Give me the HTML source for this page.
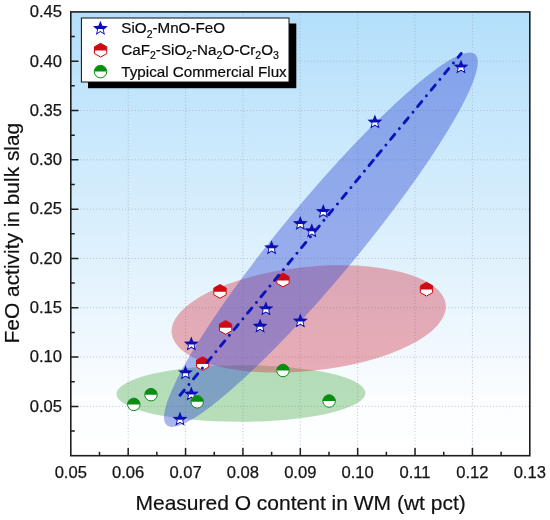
<!DOCTYPE html>
<html><head><meta charset="utf-8"><title>FeO activity vs O content</title>
<style>
html,body{margin:0;padding:0;background:#fff;}
svg{display:block;font-family:"Liberation Sans",Arial,sans-serif;}
</style></head><body>
<svg width="550" height="520" viewBox="0 0 550 520">
<defs>
<linearGradient id="bg" x1="0" y1="0" x2="0" y2="1">
<stop offset="0" stop-color="#b3dffb"/><stop offset="0.55" stop-color="#dff1fd"/><stop offset="0.87" stop-color="#fbfdff"/><stop offset="1" stop-color="#ffffff"/>
</linearGradient>
<clipPath id="plot"><rect x="70.80" y="11.90" width="459.00" height="443.80"/></clipPath>
</defs>
<rect width="550" height="520" fill="#fff"/>

<rect x="70.8" y="11.9" width="459.00" height="443.80" fill="url(#bg)"/>
<path d="M128.18,11.9V455.7M185.55,11.9V455.7M242.92,11.9V455.7M300.30,11.9V455.7M357.67,11.9V455.7M415.05,11.9V455.7M472.43,11.9V455.7M70.8,406.39H529.8M70.8,357.08H529.8M70.8,307.77H529.8M70.8,258.46H529.8M70.8,209.14H529.8M70.8,159.83H529.8M70.8,110.52H529.8M70.8,61.21H529.8" fill="none" stroke="#a8b0ba" stroke-width="0.85" stroke-dasharray="0.9 2.3"/>
<g clip-path="url(#plot)">
<ellipse cx="241" cy="393.5" rx="124.5" ry="28.3" transform="rotate(-0.25 241 393.5)" fill="#46aa46" fill-opacity="0.38"/>
<ellipse cx="308.7" cy="318.9" rx="137.8" ry="52" transform="rotate(-6 308.7 318.9)" fill="#d23041" fill-opacity="0.38"/>
<ellipse cx="320.9" cy="239.7" rx="241.2" ry="38.4" transform="rotate(-50.3 320.9 239.7)" fill="#2d46d2" fill-opacity="0.40"/>
</g>
<clipPath id="s1"><rect x="170.00" y="419.75" width="20" height="3.5"/></clipPath><polygon points="180.00,411.60 181.98,416.72 187.47,417.02 183.21,420.49 184.61,425.80 180.00,422.83 175.39,425.80 176.79,420.49 172.53,417.02 178.02,416.72" fill="#0a0eb4"/><polygon points="180.00,413.95 181.39,417.54 185.23,417.75 182.25,420.18 183.23,423.90 180.00,421.81 176.77,423.90 177.75,420.18 174.77,417.75 178.61,417.54" fill="#fff" clip-path="url(#s1)"/>
<clipPath id="s2"><rect x="181.30" y="394.55" width="20" height="3.5"/></clipPath><polygon points="191.30,386.40 193.28,391.52 198.77,391.82 194.51,395.29 195.91,400.60 191.30,397.63 186.69,400.60 188.09,395.29 183.83,391.82 189.32,391.52" fill="#0a0eb4"/><polygon points="191.30,388.75 192.69,392.34 196.53,392.55 193.55,394.98 194.53,398.70 191.30,396.61 188.07,398.70 189.05,394.98 186.07,392.55 189.91,392.34" fill="#fff" clip-path="url(#s2)"/>
<clipPath id="s3"><rect x="175.50" y="373.35" width="20" height="3.5"/></clipPath><polygon points="185.50,365.20 187.48,370.32 192.97,370.62 188.71,374.09 190.11,379.40 185.50,376.43 180.89,379.40 182.29,374.09 178.03,370.62 183.52,370.32" fill="#0a0eb4"/><polygon points="185.50,367.56 186.89,371.14 190.73,371.35 187.75,373.78 188.73,377.50 185.50,375.41 182.27,377.50 183.25,373.78 180.27,371.35 184.11,371.14" fill="#fff" clip-path="url(#s3)"/>
<clipPath id="s4"><rect x="181.30" y="344.55" width="20" height="3.5"/></clipPath><polygon points="191.30,336.40 193.28,341.52 198.77,341.82 194.51,345.29 195.91,350.60 191.30,347.63 186.69,350.60 188.09,345.29 183.83,341.82 189.32,341.52" fill="#0a0eb4"/><polygon points="191.30,338.75 192.69,342.34 196.53,342.55 193.55,344.98 194.53,348.70 191.30,346.61 188.07,348.70 189.05,344.98 186.07,342.55 189.91,342.34" fill="#fff" clip-path="url(#s4)"/>
<clipPath id="s5"><rect x="250.10" y="326.65" width="20" height="3.5"/></clipPath><polygon points="260.10,318.50 262.08,323.62 267.57,323.92 263.31,327.39 264.71,332.70 260.10,329.73 255.49,332.70 256.89,327.39 252.63,323.92 258.12,323.62" fill="#0a0eb4"/><polygon points="260.10,320.86 261.49,324.44 265.33,324.65 262.35,327.08 263.33,330.80 260.10,328.71 256.87,330.80 257.85,327.08 254.87,324.65 258.71,324.44" fill="#fff" clip-path="url(#s5)"/>
<clipPath id="s6"><rect x="255.90" y="309.35" width="20" height="3.5"/></clipPath><polygon points="265.90,301.20 267.88,306.32 273.37,306.62 269.11,310.09 270.51,315.40 265.90,312.43 261.29,315.40 262.69,310.09 258.43,306.62 263.92,306.32" fill="#0a0eb4"/><polygon points="265.90,303.56 267.29,307.14 271.13,307.35 268.15,309.78 269.13,313.50 265.90,311.41 262.67,313.50 263.65,309.78 260.67,307.35 264.51,307.14" fill="#fff" clip-path="url(#s6)"/>
<clipPath id="s7"><rect x="290.30" y="321.55" width="20" height="3.5"/></clipPath><polygon points="300.30,313.40 302.28,318.52 307.77,318.82 303.51,322.29 304.91,327.60 300.30,324.63 295.69,327.60 297.09,322.29 292.83,318.82 298.32,318.52" fill="#0a0eb4"/><polygon points="300.30,315.75 301.69,319.34 305.53,319.55 302.55,321.98 303.53,325.70 300.30,323.61 297.07,325.70 298.05,321.98 295.07,319.55 298.91,319.34" fill="#fff" clip-path="url(#s7)"/>
<clipPath id="s8"><rect x="261.60" y="248.35" width="20" height="3.5"/></clipPath><polygon points="271.60,240.20 273.58,245.32 279.07,245.62 274.81,249.09 276.21,254.40 271.60,251.43 266.99,254.40 268.39,249.09 264.13,245.62 269.62,245.32" fill="#0a0eb4"/><polygon points="271.60,242.56 272.99,246.14 276.83,246.35 273.85,248.78 274.83,252.50 271.60,250.41 268.37,252.50 269.35,248.78 266.37,246.35 270.21,246.14" fill="#fff" clip-path="url(#s8)"/>
<clipPath id="s9"><rect x="290.30" y="224.05" width="20" height="3.5"/></clipPath><polygon points="300.30,215.90 302.28,221.02 307.77,221.32 303.51,224.79 304.91,230.10 300.30,227.13 295.69,230.10 297.09,224.79 292.83,221.32 298.32,221.02" fill="#0a0eb4"/><polygon points="300.30,218.25 301.69,221.84 305.53,222.05 302.55,224.48 303.53,228.20 300.30,226.11 297.07,228.20 298.05,224.48 295.07,222.05 298.91,221.84" fill="#fff" clip-path="url(#s9)"/>
<clipPath id="s10"><rect x="301.80" y="231.35" width="20" height="3.5"/></clipPath><polygon points="311.80,223.20 313.78,228.32 319.27,228.62 315.01,232.09 316.41,237.40 311.80,234.43 307.19,237.40 308.59,232.09 304.33,228.62 309.82,228.32" fill="#0a0eb4"/><polygon points="311.80,225.56 313.19,229.14 317.03,229.35 314.05,231.78 315.03,235.50 311.80,233.41 308.57,235.50 309.55,231.78 306.57,229.35 310.41,229.14" fill="#fff" clip-path="url(#s10)"/>
<clipPath id="s11"><rect x="313.30" y="212.05" width="20" height="3.5"/></clipPath><polygon points="323.30,203.90 325.28,209.02 330.77,209.32 326.51,212.79 327.91,218.10 323.30,215.13 318.69,218.10 320.09,212.79 315.83,209.32 321.32,209.02" fill="#0a0eb4"/><polygon points="323.30,206.25 324.69,209.84 328.53,210.05 325.55,212.48 326.53,216.20 323.30,214.11 320.07,216.20 321.05,212.48 318.07,210.05 321.91,209.84" fill="#fff" clip-path="url(#s11)"/>
<clipPath id="s12"><rect x="364.90" y="122.55" width="20" height="3.5"/></clipPath><polygon points="374.90,114.40 376.88,119.52 382.37,119.82 378.11,123.29 379.51,128.60 374.90,125.63 370.29,128.60 371.69,123.29 367.43,119.82 372.92,119.52" fill="#0a0eb4"/><polygon points="374.90,116.75 376.29,120.34 380.13,120.55 377.15,122.98 378.13,126.70 374.90,124.61 371.67,126.70 372.65,122.98 369.67,120.55 373.51,120.34" fill="#fff" clip-path="url(#s12)"/>
<clipPath id="s13"><rect x="451.00" y="67.55" width="20" height="3.5"/></clipPath><polygon points="461.00,59.40 462.98,64.52 468.47,64.82 464.21,68.29 465.61,73.60 461.00,70.63 456.39,73.60 457.79,68.29 453.53,64.82 459.02,64.52" fill="#0a0eb4"/><polygon points="461.00,61.76 462.39,65.34 466.23,65.55 463.25,67.98 464.23,71.70 461.00,69.61 457.77,71.70 458.75,67.98 455.77,65.55 459.61,65.34" fill="#fff" clip-path="url(#s13)"/>
<clipPath id="s14"><rect x="192.60" y="353.60" width="20" height="10.4"/></clipPath><polygon points="202.60,356.75 208.75,360.17 208.75,367.02 202.60,370.45 196.45,367.02 196.45,360.17" fill="#fff" stroke="#cf0a12" stroke-width="1"/><polygon points="202.60,356.75 208.75,360.17 208.75,367.02 202.60,370.45 196.45,367.02 196.45,360.17" fill="#cf0a12" clip-path="url(#s14)"/>
<clipPath id="s15"><rect x="215.60" y="317.40" width="20" height="10.4"/></clipPath><polygon points="225.60,320.55 231.75,323.97 231.75,330.82 225.60,334.25 219.45,330.82 219.45,323.97" fill="#fff" stroke="#cf0a12" stroke-width="1"/><polygon points="225.60,320.55 231.75,323.97 231.75,330.82 225.60,334.25 219.45,330.82 219.45,323.97" fill="#cf0a12" clip-path="url(#s15)"/>
<clipPath id="s16"><rect x="210.00" y="281.40" width="20" height="10.4"/></clipPath><polygon points="220.00,284.55 226.15,287.97 226.15,294.82 220.00,298.25 213.85,294.82 213.85,287.97" fill="#fff" stroke="#cf0a12" stroke-width="1"/><polygon points="220.00,284.55 226.15,287.97 226.15,294.82 220.00,298.25 213.85,294.82 213.85,287.97" fill="#cf0a12" clip-path="url(#s16)"/>
<clipPath id="s17"><rect x="273.00" y="270.00" width="20" height="10.4"/></clipPath><polygon points="283.00,273.15 289.15,276.57 289.15,283.43 283.00,286.85 276.85,283.43 276.85,276.57" fill="#fff" stroke="#cf0a12" stroke-width="1"/><polygon points="283.00,273.15 289.15,276.57 289.15,283.43 283.00,286.85 276.85,283.43 276.85,276.57" fill="#cf0a12" clip-path="url(#s17)"/>
<clipPath id="s18"><rect x="416.50" y="279.20" width="20" height="10.4"/></clipPath><polygon points="426.50,282.35 432.65,285.77 432.65,292.62 426.50,296.05 420.35,292.62 420.35,285.77" fill="#fff" stroke="#cf0a12" stroke-width="1"/><polygon points="426.50,282.35 432.65,285.77 432.65,292.62 426.50,296.05 420.35,292.62 420.35,285.77" fill="#cf0a12" clip-path="url(#s18)"/>
<circle cx="133.80" cy="404.40" r="6.25" fill="#fff" stroke="#0b8d13" stroke-width="1"/><path d="M127.55,404.40 A6.25,6.25 0 0 1 140.05,404.40 Z" fill="#0b8d13"/>
<circle cx="151.00" cy="394.70" r="6.25" fill="#fff" stroke="#0b8d13" stroke-width="1"/><path d="M144.75,394.70 A6.25,6.25 0 0 1 157.25,394.70 Z" fill="#0b8d13"/>
<circle cx="197.20" cy="401.80" r="6.25" fill="#fff" stroke="#0b8d13" stroke-width="1"/><path d="M190.95,401.80 A6.25,6.25 0 0 1 203.45,401.80 Z" fill="#0b8d13"/>
<circle cx="283.00" cy="370.50" r="6.25" fill="#fff" stroke="#0b8d13" stroke-width="1"/><path d="M276.75,370.50 A6.25,6.25 0 0 1 289.25,370.50 Z" fill="#0b8d13"/>
<circle cx="329.10" cy="401.00" r="6.25" fill="#fff" stroke="#0b8d13" stroke-width="1"/><path d="M322.85,401.00 A6.25,6.25 0 0 1 335.35,401.00 Z" fill="#0b8d13"/>
<line x1="180.05" y1="395.25" x2="375.10" y2="158.16" stroke="#0a14ba" stroke-width="2.9" stroke-dasharray="6.6 7.32 0.01 7.32" stroke-linecap="round"/>
<line x1="377.06" y1="155.79" x2="461.22" y2="53.49" stroke="#0a14ba" stroke-width="2.9" stroke-dasharray="6.6 7.32 0.01 7.32" stroke-linecap="round"/>
<rect x="70.8" y="11.9" width="459.00" height="443.80" fill="none" stroke="#1e1e1e" stroke-width="1.6"/>
<path d="M99.49,455.7v-4M128.18,455.7v-7.7M156.86,455.7v-4M185.55,455.7v-7.7M214.24,455.7v-4M242.92,455.7v-7.7M271.61,455.7v-4M300.30,455.7v-7.7M328.99,455.7v-4M357.67,455.7v-7.7M386.36,455.7v-4M415.05,455.7v-7.7M443.74,455.7v-4M472.43,455.7v-7.7M501.11,455.7v-4M70.8,431.04h4M70.8,406.39h7.7M70.8,381.73h4M70.8,357.08h7.7M70.8,332.42h4M70.8,307.77h7.7M70.8,283.11h4M70.8,258.46h7.7M70.8,233.80h4M70.8,209.14h7.7M70.8,184.49h4M70.8,159.83h7.7M70.8,135.18h4M70.8,110.52h7.7M70.8,85.87h4M70.8,61.21h7.7M70.8,36.56h4" fill="none" stroke="#1e1e1e" stroke-width="1.5"/>
<g font-size="16.6" fill="#161616" stroke="#161616" stroke-width="0.25" text-anchor="middle">
<text x="70.80" y="477.6">0.05</text>
<text x="128.18" y="477.6">0.06</text>
<text x="185.55" y="477.6">0.07</text>
<text x="242.92" y="477.6">0.08</text>
<text x="300.30" y="477.6">0.09</text>
<text x="357.67" y="477.6">0.10</text>
<text x="415.05" y="477.6">0.11</text>
<text x="472.43" y="477.6">0.12</text>
<text x="529.80" y="477.6">0.13</text>
</g><g font-size="16.6" fill="#161616" stroke="#161616" stroke-width="0.25" text-anchor="end">
<text x="62" y="411.69">0.05</text>
<text x="62" y="362.38">0.10</text>
<text x="62" y="313.07">0.15</text>
<text x="62" y="263.76">0.20</text>
<text x="62" y="214.44">0.25</text>
<text x="62" y="165.13">0.30</text>
<text x="62" y="115.82">0.35</text>
<text x="62" y="66.51">0.40</text>
<text x="62" y="17.20">0.45</text>
</g>
<text x="300.6" y="509.8" font-size="21" fill="#111" stroke="#111" stroke-width="0.2" text-anchor="middle">Measured O content in WM (wt pct)</text>
<text transform="translate(19 233.1) rotate(-90)" font-size="20.9" fill="#111" stroke="#111" stroke-width="0.2" text-anchor="middle">FeO activity in bulk slag</text>
<rect x="88" y="23.5" width="208.3" height="64.7" fill="#000"/>
<rect x="81.4" y="18" width="207.6" height="64" fill="#fff" stroke="#111" stroke-width="1"/>
<clipPath id="s19"><rect x="90.40" y="28.90" width="20" height="4.6"/></clipPath><polygon points="100.40,20.75 102.38,25.87 107.87,26.17 103.61,29.64 105.01,34.95 100.40,31.98 95.79,34.95 97.19,29.64 92.93,26.17 98.42,25.87" fill="#0a0eb4"/><polygon points="100.40,23.11 101.79,26.69 105.63,26.90 102.65,29.33 103.63,33.05 100.40,30.96 97.17,33.05 98.15,29.33 95.17,26.90 99.01,26.69" fill="#fff" clip-path="url(#s19)"/>
<clipPath id="s20"><rect x="90.60" y="40.20" width="20" height="10.4"/></clipPath><polygon points="100.60,43.35 106.75,46.78 106.75,53.62 100.60,57.05 94.45,53.62 94.45,46.78" fill="#fff" stroke="#cf0a12" stroke-width="1"/><polygon points="100.60,43.35 106.75,46.78 106.75,53.62 100.60,57.05 94.45,53.62 94.45,46.78" fill="#cf0a12" clip-path="url(#s20)"/>
<circle cx="100.50" cy="71.60" r="6.25" fill="#fff" stroke="#0b8d13" stroke-width="1"/><path d="M94.25,71.60 A6.25,6.25 0 0 1 106.75,71.60 Z" fill="#0b8d13"/>
<g font-size="15.2" fill="#0a0a0a" stroke="#0a0a0a" stroke-width="0.2">
<text x="121.3" y="33.4">SiO<tspan font-size="10.5" dy="4.3">2</tspan><tspan dy="-4.3">-MnO-FeO</tspan></text>
<text x="121.3" y="54.7">CaF<tspan font-size="10.5" dy="4.3">2</tspan><tspan dy="-4.3">-SiO</tspan><tspan font-size="10.5" dy="4.3">2</tspan><tspan dy="-4.3">-Na</tspan><tspan font-size="10.5" dy="4.3">2</tspan><tspan dy="-4.3">O-Cr</tspan><tspan font-size="10.5" dy="4.3">2</tspan><tspan dy="-4.3">O</tspan><tspan font-size="10.5" dy="4.3">3</tspan></text>
<text x="121.3" y="76.7">Typical Commercial Flux</text>
</g>
</svg></body></html>
